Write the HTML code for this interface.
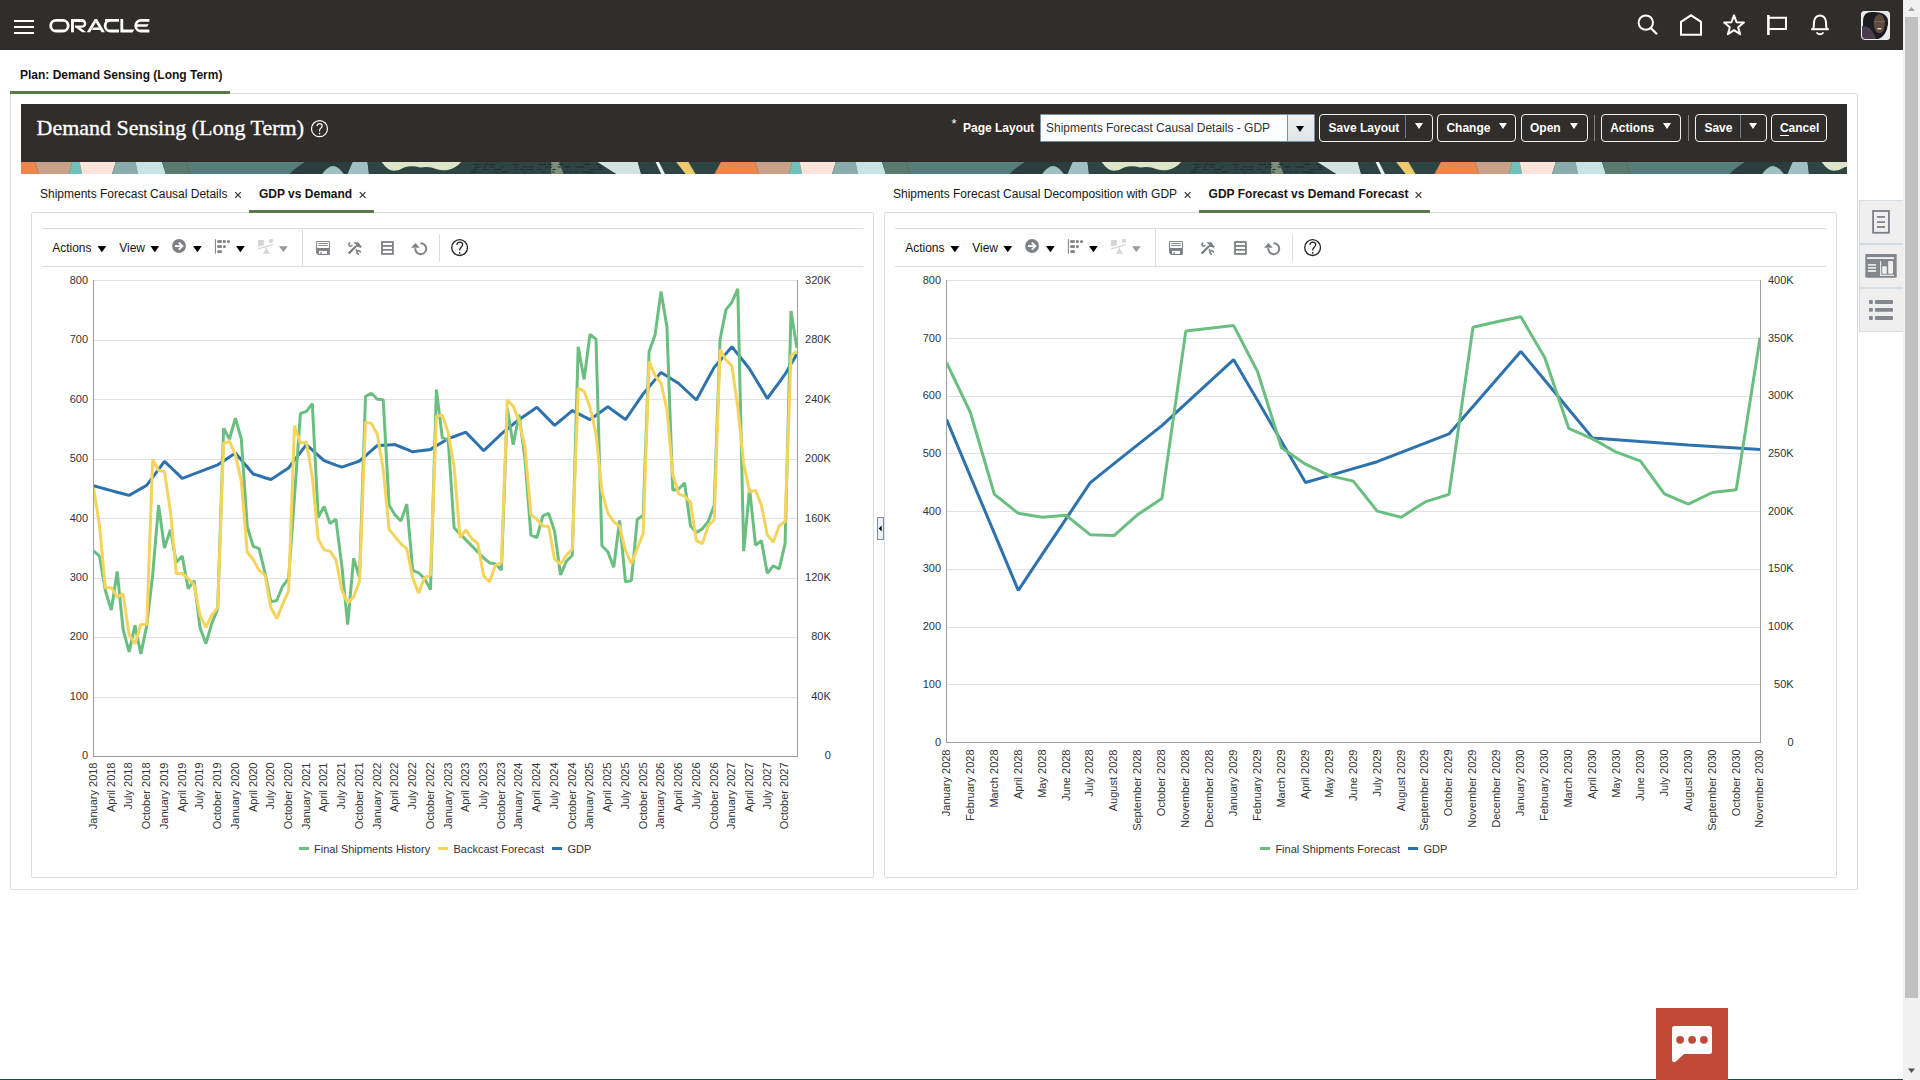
<!DOCTYPE html>
<html><head><meta charset="utf-8">
<style>
*{box-sizing:border-box}
html,body{margin:0;padding:0}
body{width:1920px;height:1080px;overflow:hidden;position:relative;background:#fff;font-family:"Liberation Sans",sans-serif;color:#161513}
.a{position:absolute}
.t{white-space:nowrap;position:absolute;line-height:12px;font-size:12px}
svg.a{overflow:visible}
#hdr{left:0;top:0;width:1903px;height:50px;background:#312d2a}
#sb{left:1903px;top:0;width:17px;height:1080px;background:#f1f1f1}
.btn{position:absolute;top:114px;height:28px;border:1px solid #f2f2f2;border-radius:4px}
.bt{position:absolute;top:121.8px;font-weight:bold;font-size:12px;line-height:12px;color:#fff;white-space:nowrap}
.wtri{position:absolute;top:123px;width:0;height:0;border-left:4.5px solid transparent;border-right:4.5px solid transparent;border-top:6.4px solid #fff}
.bdiv{position:absolute;top:115px;width:1px;height:23px;background:#6b8096}
.sep{position:absolute;top:115px;width:1px;height:26px;background:#7d8288}
.panel{position:absolute;top:212px;height:666px;border:1px solid #d6dfe8;border-radius:2px;background:#fff}
.tab{position:absolute;top:187.8px;font-size:12px;line-height:12px;white-space:nowrap;color:#161513}
</style></head><body>
<!-- header -->
<div id="hdr" class="a"></div>
<svg class="a" style="left:0;top:0" width="1903" height="50" viewBox="0 0 1903 50">
  <g fill="#fff">
    <rect x="14" y="20" width="20" height="2"/><rect x="14" y="26" width="20" height="2"/><rect x="14" y="32" width="20" height="2"/>
  </g>
  <!-- ORACLE logo -->
  <g fill="none" stroke="#fff" stroke-width="2.8">
    <rect x="50.7" y="20.4" width="17.5" height="10.6" rx="5.3" ry="5.3"/>
    <path d="M105.1 20.4H119M119 31H110.4A5.3 5.3 0 0 1 110.4 20.4" />
    <path d="M149.4 20.4H141A5.3 5.3 0 0 0 141 31H149.4"/>
  </g>
  <g fill="#fff">
    <rect x="71.05" y="19.05" width="2.85" height="13.25"/>
    <path d="M73.9 19.05H81.9A4.4 4.4 0 0 1 81.9 27.85H75.2V25.4H82.2A1.65 1.65 0 0 0 82.2 22.1H73.9Z"/>
    <path d="M75.2 25.4L80.4 27.85L86.2 32.3H82.1L75.2 27.1Z"/>
    <path d="M86.8 32.3L94.7 19H97L104.9 32.3H101.6L95.85 22.6L90.1 32.3Z"/>
    <path d="M93.5 27.5H99L100.5 30H92Z"/>
    <path d="M120.4 19H123.2V29.5H134.4L132.5 32.4H120.4Z"/>
    <path d="M136.7 24.3H148.7L147 26.8H136.7Z"/>
  </g>
  <!-- right icons -->
  <g fill="none" stroke="#fff" stroke-width="2">
    <circle cx="1645.8" cy="22.6" r="7.2"/>
    <path d="M1651 28.2L1657 34.2" stroke-width="2.3"/>
    <path d="M1681 34.8V21.8L1691 15.3L1701 21.8V34.8Z"/>
    <path d="M1734 15.4L1736.59 22.24L1743.89 22.59L1738.18 27.16L1740.11 34.21L1734 30.2L1727.89 34.21L1729.82 27.16L1724.11 22.59L1731.41 22.24Z" stroke-linejoin="round"/>
    <path d="M1768.4 15V35" stroke-width="2.6"/>
    <path d="M1768.4 17.7H1786V28.9H1768.4"/>
    <path d="M1813.4 28.6C1813.8 26.5 1814 24.6 1814 22.2A6 6.8 0 0 1 1826 22.2C1826 24.6 1826.2 26.5 1826.6 28.6"/>
    <path d="M1811.2 29.2H1828.8"/>
    <path d="M1816.6 32.4A3.6 2.8 0 0 0 1823.4 32.4"/>
  </g>
  <!-- avatar -->
  <defs>
    <clipPath id="avc"><rect x="1861" y="11" width="29" height="29" rx="3.5"/></clipPath>
    <radialGradient id="face" cx="0.5" cy="0.45" r="0.5"><stop offset="0" stop-color="#6d4a3c"/><stop offset="1" stop-color="#3b2a25"/></radialGradient>
  </defs>
  <filter id="avb"><feGaussianBlur stdDeviation="0.7"/></filter>
  <g clip-path="url(#avc)"><g filter="url(#avb)">
    <rect x="1861" y="11" width="29" height="29" fill="#e2e9e8"/>
    <path d="M1863 21Q1863 12 1872 12Q1885 11 1887.8 19Q1889 29 1884.5 34.5Q1880 39.5 1875 39.5L1863 39.5Z" fill="#1b1d24"/>
    <ellipse cx="1879.3" cy="23.6" rx="5.6" ry="9.6" fill="#5f4a3e"/>
    <path d="M1862 26Q1867 25.5 1870.5 29Q1874 33 1876.5 40.5H1861Z" fill="#4b3c50"/>
    <path d="M1874.2 21.6H1884.8" stroke="#767a80" stroke-width="0.8"/>
    <rect x="1877.4" y="28.1" width="4" height="1.3" fill="#ecebe8"/>
    <path d="M1884.8 34Q1888 29 1888.2 22L1890 22V40H1880Q1883 37.5 1884.8 34Z" fill="#e8eef1"/>
  </g></g>
  <rect x="1861.5" y="11.5" width="28" height="28" rx="3.5" fill="none" stroke="#eef2f0" stroke-width="1"/>
</svg>

<!-- scrollbar -->
<div id="sb" class="a"></div>
<div class="a" style="left:1905px;top:17px;width:13px;height:981px;background:#c1c1c1"></div>
<svg class="a" style="left:1903px;top:0" width="17" height="1080">
  <path d="M5 11L8.5 7L12 11Z" fill="#a3a3a3"/>
  <path d="M5 1068.5L8.5 1073L12 1068.5Z" fill="#505050"/>
</svg>


<!-- outer panel -->
<div class="a" style="left:10px;top:93px;width:1848px;height:797px;border:1px solid #d6dfe8;border-radius:0 2px 2px 2px"></div>

<!-- plan tab -->
<div class="t" style="left:20px;top:68.8px;font-weight:bold;color:#161513">Plan: Demand Sensing (Long Term)</div>
<div class="a" style="left:10px;top:91px;width:220px;height:3px;background:#587a48"></div>
<!-- title bar -->
<div class="a" style="left:21px;top:104px;width:1826px;height:58px;background:#312d2a"></div>
<svg class="a" style="left:21px;top:162px;overflow:hidden" width="1826" height="12" viewBox="21 162 1826 12">
<defs><g id="sp"><path d="M0.9 162H35.2L38.9 174H-5.6Z" fill="#f0844e"/>
<path d="M35.2 162H72.2L68.9 174H38.9Z" fill="#c9a08a"/>
<path d="M72.2 162H79.7L82 174H68.9Z" fill="#6cc1ba"/>
<path d="M79.7 162H115.8L112 174H82Z" fill="#fde4da"/>
<path d="M115.8 162H135.5L137.8 174H112Z" fill="#89abab"/>
<path d="M135.5 162H162L165.8 174H137.8Z" fill="#c8e3e4"/>
<path d="M162 162H186.4L190.6 174H165.8Z" fill="#5a7a70"/>
<path d="M186.4 162H305.3Q296 167 289.8 174H190.6Z" fill="#557e7b"/>
<path d="M305.3 162H352.7L347.5 174H289.8Z" fill="#2b3d3c"/>
<path d="M322.2 174Q328 166 333 166Q338 166 343.8 174Z" fill="#9fc1c2"/>
<path d="M352.7 162H367.5L369 174H347.5Z" fill="#a0c1c3"/>
<path d="M367.5 162H597.5L616.2 174H369Z" fill="#2f4543"/>
<path d="M381.6 162Q388 171 394 170.8Q400 170.5 404 167.5Q412 165 420 167.5Q430 166 436 169Q442 171 448 170Q456 168 461.2 162Z" fill="#dae5c9"/>
<path d="M551.1 162H559L563.7 174H551.1Z" fill="#7e8e7c"/>
<path d="M597.5 162H637.8L641.1 174H616.2Z" fill="#d4e2e2"/>
<path d="M637.8 162H720.9L714.4 174H641.1Z" fill="#2e4442"/>
<path d="M655.6 162H658.9L665 174H661.2Z" fill="#eef2f2"/>
<path d="M676.25 162H688.4L695.5 174H685.6Z" fill="#eecb6a"/>
<path d="M500.9 167h3.1 M548.5 164.5h3.8 M588.1 172h2.8 M500.5 172h3.6 M541.5 172h3.9 M489.6 167h4.6 M538.0 164.5h4.0 M478.3 164.5h2.9 M474.0 169.5h3.4 M563.4 172h4.1 M589.7 172h4.2 M545.0 167h4.6 M482.7 167h3.5 M503.5 172h4.3 M581.2 172h3.5 M520.2 169.5h3.6 M523.0 167h4.7 M558.7 164.5h4.6 M598.8 167h4.1 M512.4 164.5h4.1 M497.4 169.5h2.9 M478.2 172h2.3 M574.1 172h4.7 M472.6 172h4.3 M583.5 164.5h3.8 M569.0 172h4.2 M513.0 169.5h3.5 M599.8 169.5h2.0 M484.1 164.5h4.8 M596.3 169.5h3.8 M490.3 164.5h4.9 M514.2 169.5h4.9 M586.6 172h3.1 M583.1 172h3.9 M547.4 164.5h3.9 M592.3 169.5h3.3 M563.6 167h4.8 M526.9 169.5h3.6 M541.3 164.5h4.4 M598.4 169.5h2.1 M550.1 167h2.2 M551.6 172h3.1 M589.3 169.5h4.2 M472.9 164.5h4.9 M472.8 169.5h2.8 M529.3 169.5h2.5 M494.1 169.5h4.5 M504.3 172h2.3 M575.7 167h2.9 M498.9 169.5h2.7 M494.4 172h3.9 M482.6 169.5h4.8 M557.7 167h3.3 M581.2 167h2.2 M566.5 167h4.7 M528.6 167h4.4 M474.4 167h2.9 M578.7 167h4.6 M514.2 164.5h4.4 M514.9 167h3.3 M537.4 169.5h3.4 M552.4 169.5h3.3 M523.2 172h2.5 M470.6 172h3.7 M598.1 167h2.1 M529.4 169.5h3.6 M585.7 164.5h4.6 M596.2 164.5h4.4 M475.9 167h4.7 M587.0 164.5h2.0" stroke="#1c2a29" stroke-width="0.9" fill="none"/></g></defs>
<rect x="21" y="162" width="1826" height="12" fill="#2e4442"/><use href="#sp"/><use href="#sp" x="720"/><use href="#sp" x="1440"/><use href="#sp" x="-720"/>
</svg>
<div class="t" style="left:36.5px;top:116.9px;font-family:'Liberation Serif',serif;font-size:22px;line-height:22px;color:#fff;-webkit-text-stroke:0.35px #fff">Demand Sensing (Long Term)</div>
<svg class="a" style="left:0;top:0" width="1" height="1">
  <circle cx="319.5" cy="128.7" r="8" fill="none" stroke="#fff" stroke-width="1.2"/>
  <path d="M316.9 126.2C317.2 124.4 318.3 123.6 319.6 123.6C321 123.6 322.2 124.6 322.2 125.9C322.2 127.6 319.5 128.4 319.5 130.6V131.4" fill="none" stroke="#fff" stroke-width="1.2"/>
  <circle cx="319.5" cy="133.6" r="0.8" fill="#fff"/>
</svg>

<!-- page layout -->
<div class="t" style="left:951.6px;top:117.6px;font-size:13px;color:#fff">*</div>
<div class="bt" style="left:963px">Page Layout</div>
<div class="a" style="left:1040px;top:114px;width:275px;height:28px;background:#fcfdff;border:1px solid #7b91a8;border-radius:1px"></div>
<div class="a" style="left:1287px;top:115px;width:27px;height:26px;background:linear-gradient(#eef0f2,#e2e5e8);border-left:1px solid #7b91a8"></div>
<div class="t" style="left:1046px;top:121.8px;color:#333">Shipments Forecast Causal Details - GDP</div>
<div class="a" style="left:1295.8px;top:126px;width:0;height:0;border-left:4.5px solid transparent;border-right:4.5px solid transparent;border-top:6px solid #000"></div>

<!-- buttons -->
<div class="btn" style="left:1319px;width:114px"></div>
<div class="bt" style="left:1328.6px">Save Layout</div>
<div class="bdiv" style="left:1405px"></div>
<div class="wtri" style="left:1414.8px"></div>

<div class="btn" style="left:1437px;width:79px"></div>
<div class="bt" style="left:1446.4px">Change</div>
<div class="wtri" style="left:1499px"></div>

<div class="btn" style="left:1521px;width:67px"></div>
<div class="bt" style="left:1530px">Open</div>
<div class="wtri" style="left:1569.7px"></div>

<div class="sep" style="left:1594px"></div>

<div class="btn" style="left:1601px;width:80px"></div>
<div class="bt" style="left:1610.2px">Actions</div>
<div class="wtri" style="left:1662.8px"></div>

<div class="sep" style="left:1688px"></div>

<div class="btn" style="left:1695px;width:72px"></div>
<div class="bt" style="left:1704.4px">Save</div>
<div class="bdiv" style="left:1739.5px"></div>
<div class="wtri" style="left:1748.8px"></div>

<div class="btn" style="left:1771px;width:56px"></div>
<div class="bt" style="left:1779.9px">Cancel</div>
<div class="a" style="left:1780px;top:134.5px;width:8.5px;height:1px;background:#fff"></div>

<!-- panels -->
<div class="panel" style="left:31px;width:843px"></div>
<div class="panel" style="left:884px;width:953px"></div>
<!-- sub tabs -->
<div class="tab" style="left:40px">Shipments Forecast Causal Details</div>
<div class="tab" style="left:259px;font-weight:bold">GDP vs Demand</div>
<div class="a" style="left:249px;top:210px;width:125px;height:3px;background:#587a48"></div>

<div class="tab" style="left:893px">Shipments Forecast Causal Decomposition with GDP</div>
<div class="tab" style="left:1208.6px;font-weight:bold">GDP Forecast vs Demand Forecast</div>
<div class="a" style="left:1199px;top:210px;width:231px;height:3px;background:#587a48"></div>
<svg class="a" style="left:0;top:0" width="1" height="1">
  <g stroke="#333" stroke-width="1.2" fill="none">
    <path d="M235.2 192.2L240.8 197.8M240.8 192.2L235.2 197.8"/>
    <path d="M359.8 192.2L365.4 197.8M365.4 192.2L359.8 197.8"/>
    <path d="M1184.8 192.2L1190.4 197.8M1190.4 192.2L1184.8 197.8"/>
    <path d="M1415.7 192.2L1421.3 197.8M1421.3 192.2L1415.7 197.8"/>
  </g>
</svg>


<!-- splitter handle -->
<div class="a" style="left:877px;top:517px;width:7px;height:23px;background:#eef0f2;border:1px solid #7a8ea4"></div>
<svg class="a" style="left:0;top:0" width="1" height="1"><path d="M878.8 528.5L881.6 525.6V531.4Z" fill="#000"/></svg>

<!-- side panel -->
<div class="a" style="left:1859px;top:200px;width:44px;height:132px;background:#efefef;border:1px solid #d5dde4;border-right:none"></div>
<div class="a" style="left:1860px;top:243px;width:43px;height:2px;background:#d5dde4"></div>
<div class="a" style="left:1860px;top:287px;width:43px;height:2px;background:#d5dde4"></div>
<svg class="a" style="left:0;top:0" width="1" height="1">
  <rect x="1873.1" y="211" width="15.8" height="21.8" fill="none" stroke="#7c8087" stroke-width="1.85"/>
  <g fill="#7c8087"><rect x="1877" y="216.1" width="8" height="1.7"/><rect x="1877" y="221.2" width="8" height="1.7"/><rect x="1877" y="226.1" width="8" height="1.8"/></g>
  <rect x="1865.3" y="254.1" width="31.4" height="23.6" rx="1.2" fill="#83878d"/>
  <g fill="#f0f0f0">
    <rect x="1867.1" y="257.1" width="26.9" height="1.9"/>
    <rect x="1868" y="264.1" width="8.1" height="1.6"/><rect x="1868" y="267.1" width="8.1" height="1.6"/><rect x="1868" y="270.1" width="8.1" height="1.8"/>
    <rect x="1880.1" y="261.1" width="1.1" height="14.8"/><rect x="1880.1" y="274.7" width="13.9" height="1.2"/>
    <rect x="1882.2" y="266.2" width="4.6" height="7.6" rx="0.8"/><rect x="1888.2" y="261.1" width="4.8" height="12.7" rx="0.8"/>
  </g>
  <g fill="#84888e">
    <rect x="1869" y="300" width="3.9" height="3.9" rx="0.8"/><rect x="1875" y="300" width="18" height="3.9" rx="0.8"/>
    <rect x="1869" y="308.1" width="3.9" height="3.7" rx="0.8"/><rect x="1875" y="308.1" width="18" height="3.7" rx="0.8"/>
    <rect x="1869" y="316" width="3.9" height="3.9" rx="0.8"/><rect x="1875" y="316" width="18" height="3.9" rx="0.8"/>
  </g>
</svg>

<!-- bottom line -->
<div class="a" style="left:0;top:1079px;width:1903px;height:1px;background:#20474d"></div>
<!-- chat button -->
<div class="a" style="left:1656px;top:1008px;width:72px;height:72px;background:#bf4b37"></div>
<svg class="a" style="left:0;top:0" width="1" height="1">
  <path d="M1674.5 1026H1709.5Q1712 1026 1712 1028.5V1051.5Q1712 1054 1709.5 1054H1684L1676 1061.5Q1672 1063.5 1672 1059.5V1028.5Q1672 1026 1674.5 1026Z" fill="#fff"/>
  <g fill="#bf4b37"><circle cx="1680.1" cy="1039.8" r="3.9"/><circle cx="1692.1" cy="1039.8" r="3.9"/><circle cx="1703.9" cy="1039.8" r="3.9"/></g>
</svg>


<div class="a" style="left:42px;top:228px;width:821px;height:1px;background:#d6dfe8"></div>
<div class="a" style="left:42px;top:266px;width:821px;height:1px;background:#d6dfe8"></div>
<div class="a" style="left:302px;top:228px;width:1px;height:38px;background:#d6dfe8"></div>
<div class="a" style="left:439px;top:234px;width:1px;height:28px;background:#d6dfe8"></div>
<div class="t" style="left:52.2px;top:242.2px">Actions</div>
<div class="t" style="left:119.2px;top:242.2px">View</div>
<svg class="a" style="left:0;top:0" width="1" height="1"><g transform="translate(0,0)">
<path d="M97.5 246H106.3L101.9 252.3Z" fill="#000"/>
<path d="M150.4 246H159.20000000000002L154.8 252.3Z" fill="#000"/>
<path d="M193 246H201.8L197.4 252.3Z" fill="#000"/>
<path d="M236 246H244.8L240.4 252.3Z" fill="#000"/>
<path d="M279 246.2H287.8L283.4 251.9Z" fill="#9a9a9a"/>
<circle cx="179" cy="246" r="6.9" fill="#7c8087"/>
<path d="M174.9 246.1H181" stroke="#fff" stroke-width="1.9" fill="none"/><path d="M178.8 242.6L182.4 246.1L178.8 249.6" stroke="#fff" stroke-width="1.9" fill="none"/>
<g fill="#7c8087"><rect x="214.9" y="239.1" width="1" height="14.6"/><rect x="217.2" y="240.2" width="4.6" height="2.7"/><rect x="223" y="240.2" width="2.7" height="2.7"/><rect x="227" y="240.2" width="3" height="2.7" rx="1.2"/><rect x="217.2" y="245.2" width="4.6" height="2.7"/><rect x="223" y="245.2" width="2.9" height="2.7" rx="1.2"/><rect x="217.2" y="250.2" width="4.8" height="2.7" rx="1.2"/></g>
<g fill="#d3d5d8"><path d="M258.1 240.1H263.8V245.2L258.1 246.8Z"/><path d="M269.2 239H272.9V242.3L269.2 243.3Z"/><path d="M258.1 248.2L272.9 244.1V245.3L258.1 249.4Z"/><rect x="265.9" y="247.5" width="1" height="2"/><path d="M266.4 248.5L270.2 253.8H262.7Z"/></g>
<g fill="#7c8087"><path d="M317 241H329A0.9 0.9 0 0 1 329.9 241.9V254A0.9 0.9 0 0 1 329 254.9H318L316.1 253V241.9A0.9 0.9 0 0 1 317 241Z"/></g><rect x="317.1" y="241.9" width="11.8" height="6.1" fill="#fff"/><g fill="#7c8087"><rect x="318.3" y="243" width="9.4" height="0.9"/><rect x="318.3" y="245.1" width="9.4" height="0.9"/></g><rect x="319" y="250.9" width="8" height="3" fill="#fff"/><rect x="320.3" y="252.2" width="1.5" height="1.7" fill="#7c8087"/>
<g stroke="#7c8087" fill="none"><path d="M350.3 242.7A1.7 1.7 0 1 0 352.2 245" stroke-width="1.6"/><path d="M358.9 254.1A1.7 1.7 0 1 1 360.3 252.7" stroke-width="1.6"/><path d="M355.8 249.4L357.6 251.2" stroke-width="1.6"/><path d="M349.3 252.9L355.4 246.8" stroke-width="2.3" stroke-linecap="round"/></g><path d="M353.3 242.2H357.8Q359.6 242.6 360.2 245.3L361.9 246.3L360.6 248.1L358.6 246.9L356.4 246.9L355.9 244.4Z" fill="#7c8087"/>
<rect x="382" y="242" width="10.9" height="11.9" fill="none" stroke="#7c8087" stroke-width="1.8"/><g fill="#7c8087"><rect x="382" y="245" width="11" height="1.8"/><rect x="382" y="249" width="11" height="1.7"/></g>
<path d="M420.5 243.2A5.5 5.5 0 1 1 415.3 248.2" fill="none" stroke="#7c8087" stroke-width="1.9"/><path d="M415.4 243L419.7 247.7H411.1Z" fill="#7c8087"/>
<circle cx="459.6" cy="247.6" r="7.9" fill="none" stroke="#222" stroke-width="1.3"/><path d="M456.9 245C457.2 243.1 458.5 242.2 459.9 242.2C461.5 242.2 462.7 243.3 462.7 244.7C462.7 246.6 459.7 247.5 459.7 250V250.6" fill="none" stroke="#222" stroke-width="1.2"/><circle cx="459.7" cy="252.9" r="0.85" fill="#222"/>
</g></svg>
<div class="a" style="left:895px;top:228px;width:931px;height:1px;background:#d6dfe8"></div>
<div class="a" style="left:895px;top:266px;width:931px;height:1px;background:#d6dfe8"></div>
<div class="a" style="left:1155px;top:228px;width:1px;height:38px;background:#d6dfe8"></div>
<div class="a" style="left:1292px;top:234px;width:1px;height:28px;background:#d6dfe8"></div>
<div class="t" style="left:905.2px;top:242.2px">Actions</div>
<div class="t" style="left:972.2px;top:242.2px">View</div>
<svg class="a" style="left:0;top:0" width="1" height="1"><g transform="translate(853,0)">
<path d="M97.5 246H106.3L101.9 252.3Z" fill="#000"/>
<path d="M150.4 246H159.20000000000002L154.8 252.3Z" fill="#000"/>
<path d="M193 246H201.8L197.4 252.3Z" fill="#000"/>
<path d="M236 246H244.8L240.4 252.3Z" fill="#000"/>
<path d="M279 246.2H287.8L283.4 251.9Z" fill="#9a9a9a"/>
<circle cx="179" cy="246" r="6.9" fill="#7c8087"/>
<path d="M174.9 246.1H181" stroke="#fff" stroke-width="1.9" fill="none"/><path d="M178.8 242.6L182.4 246.1L178.8 249.6" stroke="#fff" stroke-width="1.9" fill="none"/>
<g fill="#7c8087"><rect x="214.9" y="239.1" width="1" height="14.6"/><rect x="217.2" y="240.2" width="4.6" height="2.7"/><rect x="223" y="240.2" width="2.7" height="2.7"/><rect x="227" y="240.2" width="3" height="2.7" rx="1.2"/><rect x="217.2" y="245.2" width="4.6" height="2.7"/><rect x="223" y="245.2" width="2.9" height="2.7" rx="1.2"/><rect x="217.2" y="250.2" width="4.8" height="2.7" rx="1.2"/></g>
<g fill="#d3d5d8"><path d="M258.1 240.1H263.8V245.2L258.1 246.8Z"/><path d="M269.2 239H272.9V242.3L269.2 243.3Z"/><path d="M258.1 248.2L272.9 244.1V245.3L258.1 249.4Z"/><rect x="265.9" y="247.5" width="1" height="2"/><path d="M266.4 248.5L270.2 253.8H262.7Z"/></g>
<g fill="#7c8087"><path d="M317 241H329A0.9 0.9 0 0 1 329.9 241.9V254A0.9 0.9 0 0 1 329 254.9H318L316.1 253V241.9A0.9 0.9 0 0 1 317 241Z"/></g><rect x="317.1" y="241.9" width="11.8" height="6.1" fill="#fff"/><g fill="#7c8087"><rect x="318.3" y="243" width="9.4" height="0.9"/><rect x="318.3" y="245.1" width="9.4" height="0.9"/></g><rect x="319" y="250.9" width="8" height="3" fill="#fff"/><rect x="320.3" y="252.2" width="1.5" height="1.7" fill="#7c8087"/>
<g stroke="#7c8087" fill="none"><path d="M350.3 242.7A1.7 1.7 0 1 0 352.2 245" stroke-width="1.6"/><path d="M358.9 254.1A1.7 1.7 0 1 1 360.3 252.7" stroke-width="1.6"/><path d="M355.8 249.4L357.6 251.2" stroke-width="1.6"/><path d="M349.3 252.9L355.4 246.8" stroke-width="2.3" stroke-linecap="round"/></g><path d="M353.3 242.2H357.8Q359.6 242.6 360.2 245.3L361.9 246.3L360.6 248.1L358.6 246.9L356.4 246.9L355.9 244.4Z" fill="#7c8087"/>
<rect x="382" y="242" width="10.9" height="11.9" fill="none" stroke="#7c8087" stroke-width="1.8"/><g fill="#7c8087"><rect x="382" y="245" width="11" height="1.8"/><rect x="382" y="249" width="11" height="1.7"/></g>
<path d="M420.5 243.2A5.5 5.5 0 1 1 415.3 248.2" fill="none" stroke="#7c8087" stroke-width="1.9"/><path d="M415.4 243L419.7 247.7H411.1Z" fill="#7c8087"/>
<circle cx="459.6" cy="247.6" r="7.9" fill="none" stroke="#222" stroke-width="1.3"/><path d="M456.9 245C457.2 243.1 458.5 242.2 459.9 242.2C461.5 242.2 462.7 243.3 462.7 244.7C462.7 246.6 459.7 247.5 459.7 250V250.6" fill="none" stroke="#222" stroke-width="1.2"/><circle cx="459.7" cy="252.9" r="0.85" fill="#222"/>
</g></svg>
<svg class="a" style="left:0;top:0" width="1920" height="1080" viewBox="0 0 1920 1080">
<path d="M93 280.5H797 M93 340.5H797 M93 399.5H797 M93 459.5H797 M93 518.5H797 M93 578.5H797 M93 637.5H797 M93 697.5H797" stroke="#dde2e9" stroke-width="1" fill="none"/>
<path d="M93.5 280V756.5M797.5 280V756.5M93 756.5H798" stroke="#9e9e9e" stroke-width="1" fill="none"/>
<g font-family="Liberation Sans" font-size="11" fill="#333333">
<text x="88" y="284.00" text-anchor="end">800</text>
<text x="830.8" y="284.00" text-anchor="end">320K</text>
<text x="88" y="343.00" text-anchor="end">700</text>
<text x="830.8" y="343.00" text-anchor="end">280K</text>
<text x="88" y="403.00" text-anchor="end">600</text>
<text x="830.8" y="403.00" text-anchor="end">240K</text>
<text x="88" y="462.00" text-anchor="end">500</text>
<text x="830.8" y="462.00" text-anchor="end">200K</text>
<text x="88" y="522.00" text-anchor="end">400</text>
<text x="830.8" y="522.00" text-anchor="end">160K</text>
<text x="88" y="581.00" text-anchor="end">300</text>
<text x="830.8" y="581.00" text-anchor="end">120K</text>
<text x="88" y="640.00" text-anchor="end">200</text>
<text x="830.8" y="640.00" text-anchor="end">80K</text>
<text x="88" y="700.00" text-anchor="end">100</text>
<text x="830.8" y="700.00" text-anchor="end">40K</text>
<text x="88" y="759.00" text-anchor="end">0</text>
<text x="830.8" y="759.00" text-anchor="end">0</text>
<text transform="translate(96.9,762.5) rotate(-90)" text-anchor="end">January 2018</text>
<text transform="translate(114.6,762.5) rotate(-90)" text-anchor="end">April 2018</text>
<text transform="translate(132.4,762.5) rotate(-90)" text-anchor="end">July 2018</text>
<text transform="translate(150.1,762.5) rotate(-90)" text-anchor="end">October 2018</text>
<text transform="translate(167.8,762.5) rotate(-90)" text-anchor="end">January 2019</text>
<text transform="translate(185.6,762.5) rotate(-90)" text-anchor="end">April 2019</text>
<text transform="translate(203.3,762.5) rotate(-90)" text-anchor="end">July 2019</text>
<text transform="translate(221.0,762.5) rotate(-90)" text-anchor="end">October 2019</text>
<text transform="translate(238.7,762.5) rotate(-90)" text-anchor="end">January 2020</text>
<text transform="translate(256.5,762.5) rotate(-90)" text-anchor="end">April 2020</text>
<text transform="translate(274.2,762.5) rotate(-90)" text-anchor="end">July 2020</text>
<text transform="translate(291.9,762.5) rotate(-90)" text-anchor="end">October 2020</text>
<text transform="translate(309.7,762.5) rotate(-90)" text-anchor="end">January 2021</text>
<text transform="translate(327.4,762.5) rotate(-90)" text-anchor="end">April 2021</text>
<text transform="translate(345.1,762.5) rotate(-90)" text-anchor="end">July 2021</text>
<text transform="translate(362.8,762.5) rotate(-90)" text-anchor="end">October 2021</text>
<text transform="translate(380.6,762.5) rotate(-90)" text-anchor="end">January 2022</text>
<text transform="translate(398.3,762.5) rotate(-90)" text-anchor="end">April 2022</text>
<text transform="translate(416.0,762.5) rotate(-90)" text-anchor="end">July 2022</text>
<text transform="translate(433.8,762.5) rotate(-90)" text-anchor="end">October 2022</text>
<text transform="translate(451.5,762.5) rotate(-90)" text-anchor="end">January 2023</text>
<text transform="translate(469.2,762.5) rotate(-90)" text-anchor="end">April 2023</text>
<text transform="translate(487.0,762.5) rotate(-90)" text-anchor="end">July 2023</text>
<text transform="translate(504.7,762.5) rotate(-90)" text-anchor="end">October 2023</text>
<text transform="translate(522.4,762.5) rotate(-90)" text-anchor="end">January 2024</text>
<text transform="translate(540.1,762.5) rotate(-90)" text-anchor="end">April 2024</text>
<text transform="translate(557.9,762.5) rotate(-90)" text-anchor="end">July 2024</text>
<text transform="translate(575.6,762.5) rotate(-90)" text-anchor="end">October 2024</text>
<text transform="translate(593.3,762.5) rotate(-90)" text-anchor="end">January 2025</text>
<text transform="translate(611.1,762.5) rotate(-90)" text-anchor="end">April 2025</text>
<text transform="translate(628.8,762.5) rotate(-90)" text-anchor="end">July 2025</text>
<text transform="translate(646.5,762.5) rotate(-90)" text-anchor="end">October 2025</text>
<text transform="translate(664.3,762.5) rotate(-90)" text-anchor="end">January 2026</text>
<text transform="translate(682.0,762.5) rotate(-90)" text-anchor="end">April 2026</text>
<text transform="translate(699.7,762.5) rotate(-90)" text-anchor="end">July 2026</text>
<text transform="translate(717.5,762.5) rotate(-90)" text-anchor="end">October 2026</text>
<text transform="translate(735.2,762.5) rotate(-90)" text-anchor="end">January 2027</text>
<text transform="translate(752.9,762.5) rotate(-90)" text-anchor="end">April 2027</text>
<text transform="translate(770.6,762.5) rotate(-90)" text-anchor="end">July 2027</text>
<text transform="translate(788.4,762.5) rotate(-90)" text-anchor="end">October 2027</text>
<text x="314" y="853">Final Shipments History</text><text x="453.5" y="853">Backcast Forecast</text><text x="567.5" y="853">GDP</text>
</g>
<rect x="299" y="847" width="10" height="3" fill="#6abf80"/><rect x="438" y="847" width="10" height="3" fill="#f5d45c"/><rect x="552" y="847" width="10" height="3" fill="#2e72ad"/>
<clipPath id="clipL"><rect x="94" y="270" width="703" height="490"/></clipPath>
<g fill="none" stroke-width="3" stroke-linejoin="bevel" clip-path="url(#clipL)">
<polyline points="93.6,485.8 99.5,487.4 105.4,489.0 111.3,490.6 117.2,492.2 123.1,493.8 129.1,495.4 135.0,492.0 140.9,488.6 146.8,485.2 152.7,477.3 158.6,469.3 164.5,461.4 170.4,467.0 176.3,472.7 182.2,478.3 188.2,476.1 194.1,473.9 200.0,471.7 205.9,469.4 211.8,467.1 217.7,464.8 223.6,460.9 229.5,456.9 235.4,453.0 241.3,460.0 247.3,467.0 253.2,474.0 259.1,475.8 265.0,477.7 270.9,479.5 276.8,475.7 282.7,471.8 288.6,468.0 294.5,460.2 300.4,452.4 306.4,444.6 312.3,450.0 318.2,455.3 324.1,460.7 330.0,462.9 335.9,465.1 341.8,467.2 347.7,465.1 353.6,463.1 359.5,461.0 365.5,455.8 371.4,450.7 377.3,445.5 383.2,445.2 389.1,444.9 395.0,444.6 400.9,447.0 406.8,449.4 412.7,451.8 418.6,451.0 424.6,450.2 430.5,449.4 436.4,445.8 442.3,442.2 448.2,438.7 454.1,436.5 460.0,434.3 465.9,432.2 471.8,438.4 477.8,444.5 483.7,450.7 489.6,445.1 495.5,439.5 501.4,433.9 507.3,429.0 513.2,424.2 519.1,419.4 525.0,415.4 530.9,411.4 536.9,407.3 542.8,413.4 548.7,419.4 554.6,425.4 560.5,420.5 566.4,415.6 572.3,410.7 578.2,413.7 584.1,416.7 590.0,419.6 596.0,415.3 601.9,411.0 607.8,406.6 613.7,411.0 619.6,415.3 625.5,419.6 631.4,411.0 637.3,402.4 643.2,393.9 649.1,386.7 655.1,379.6 661.0,372.4 666.9,376.1 672.8,379.8 678.7,383.5 684.6,389.0 690.5,394.5 696.4,400.0 702.3,389.1 708.2,378.3 714.2,367.4 720.1,360.5 726.0,353.6 731.9,346.7 737.8,354.1 743.7,361.5 749.6,368.9 755.5,378.8 761.4,388.6 767.3,398.5 773.2,390.4 779.2,382.3 785.1,374.2 791.0,364.1 796.9,354.1" stroke="#2e72ad"/>
<polyline points="93.6,551.0 99.5,556.1 105.4,590.8 111.3,610.1 117.2,571.4 123.1,629.5 129.1,651.9 135.0,625.4 140.9,653.9 146.8,625.4 152.7,574.5 158.6,505.2 164.5,548.0 170.4,529.6 176.3,562.2 182.2,556.1 188.2,588.7 194.1,580.6 200.0,627.4 205.9,643.7 211.8,623.4 217.7,608.9 223.6,428.2 229.5,439.0 235.4,418.1 241.3,439.0 247.3,527.0 253.2,546.3 259.1,548.7 265.0,572.8 270.9,601.7 276.8,600.5 282.7,586.0 288.6,578.8 294.5,496.3 300.4,413.7 306.4,411.3 312.3,403.6 318.2,517.3 324.1,506.5 330.0,523.4 335.9,519.3 341.8,565.5 347.7,624.6 353.6,558.3 359.5,577.6 365.5,396.4 371.4,393.3 377.3,399.3 383.2,399.8 389.1,505.3 395.0,514.9 400.9,521.0 406.8,504.1 412.7,570.4 418.6,572.8 424.6,578.8 430.5,589.6 436.4,389.6 442.3,437.8 448.2,439.9 454.1,527.8 460.0,533.9 465.9,539.9 471.8,545.9 477.8,551.9 483.7,558.0 489.6,562.8 495.5,564.0 501.4,570.0 507.3,408.6 513.2,444.7 519.1,414.6 525.0,459.2 530.9,535.1 536.9,537.5 542.8,515.8 548.7,513.4 554.6,531.4 560.5,574.8 566.4,561.3 572.3,555.3 578.2,346.9 584.1,379.4 590.0,334.3 596.0,339.2 601.9,545.7 607.8,551.7 613.7,567.3 619.6,520.4 625.5,581.8 631.4,580.6 637.3,519.2 643.2,515.5 649.1,351.7 655.1,334.8 661.0,291.6 666.9,326.8 672.8,490.2 678.7,489.0 684.6,483.0 690.5,525.9 696.4,532.4 702.3,528.9 708.2,521.5 714.2,505.2 720.1,339.3 726.0,309.6 731.9,302.2 737.8,288.9 743.7,551.1 749.6,488.9 755.5,545.2 761.4,540.7 767.3,573.3 773.2,565.9 779.2,568.9 785.1,543.7 791.0,311.1 796.9,348.1" stroke="#6abf80"/>
<polyline points="93.6,487.9 99.5,525.6 105.4,587.7 111.3,587.7 117.2,596.9 123.1,593.8 129.1,634.6 135.0,643.7 140.9,624.4 146.8,624.4 152.7,459.4 158.6,470.6 164.5,471.6 170.4,511.3 176.3,573.5 182.2,573.5 188.2,578.5 194.1,584.7 200.0,615.2 205.9,627.4 211.8,614.9 217.7,607.7 223.6,443.1 229.5,441.4 235.4,454.7 241.3,481.2 247.3,552.3 253.2,559.5 259.1,570.4 265.0,575.2 270.9,607.7 276.8,618.6 282.7,604.1 288.6,590.8 294.5,425.8 300.4,443.1 306.4,442.2 312.3,476.4 318.2,539.0 324.1,549.9 330.0,551.1 335.9,559.5 341.8,589.6 347.7,602.9 353.6,596.9 359.5,581.2 365.5,422.2 371.4,423.4 377.3,434.2 383.2,469.2 389.1,529.4 395.0,536.6 400.9,543.9 406.8,548.7 412.7,577.6 418.6,593.3 424.6,577.6 430.5,575.2 436.4,416.1 442.3,414.9 448.2,432.7 454.1,466.4 460.0,537.5 465.9,530.2 471.8,538.7 477.8,543.5 483.7,576.0 489.6,582.0 495.5,565.2 501.4,562.8 507.3,400.1 513.2,406.1 519.1,420.6 525.0,447.1 530.9,514.6 536.9,519.4 542.8,526.1 548.7,526.6 554.6,559.2 560.5,564.0 566.4,555.3 572.3,549.3 578.2,387.8 584.1,391.4 590.0,407.1 596.0,433.6 601.9,491.4 607.8,513.1 613.7,521.6 619.6,526.4 625.5,550.5 631.4,563.7 637.3,548.1 643.2,533.6 649.1,361.3 655.1,375.8 661.0,383.0 666.9,409.5 672.8,474.6 678.7,493.9 684.6,496.3 690.5,502.2 696.4,540.7 702.3,543.7 708.2,525.9 714.2,520.0 720.1,349.6 726.0,360.0 731.9,365.9 737.8,407.4 743.7,463.7 749.6,491.9 755.5,490.4 761.4,505.2 767.3,534.8 773.2,542.2 779.2,525.9 785.1,521.5 791.0,355.6 796.9,351.1" stroke="#f5d45c"/>
</g></svg>
<svg class="a" style="left:0;top:0" width="1920" height="1080" viewBox="0 0 1920 1080">
<path d="M946 280.5H1760 M946 338.5H1760 M946 396.5H1760 M946 453.5H1760 M946 511.5H1760 M946 569.5H1760 M946 627.5H1760 M946 684.5H1760" stroke="#dde2e9" stroke-width="1" fill="none"/>
<path d="M946.5 280V742.5M1760.5 280V742.5M946 742.5H1761" stroke="#9e9e9e" stroke-width="1" fill="none"/>
<g font-family="Liberation Sans" font-size="11" fill="#333333">
<text x="941" y="284.00" text-anchor="end">800</text>
<text x="1793.6" y="284.00" text-anchor="end">400K</text>
<text x="941" y="342.00" text-anchor="end">700</text>
<text x="1793.6" y="342.00" text-anchor="end">350K</text>
<text x="941" y="399.00" text-anchor="end">600</text>
<text x="1793.6" y="399.00" text-anchor="end">300K</text>
<text x="941" y="457.00" text-anchor="end">500</text>
<text x="1793.6" y="457.00" text-anchor="end">250K</text>
<text x="941" y="515.00" text-anchor="end">400</text>
<text x="1793.6" y="515.00" text-anchor="end">200K</text>
<text x="941" y="572.00" text-anchor="end">300</text>
<text x="1793.6" y="572.00" text-anchor="end">150K</text>
<text x="941" y="630.00" text-anchor="end">200</text>
<text x="1793.6" y="630.00" text-anchor="end">100K</text>
<text x="941" y="688.00" text-anchor="end">100</text>
<text x="1793.6" y="688.00" text-anchor="end">50K</text>
<text x="941" y="746.00" text-anchor="end">0</text>
<text x="1793.6" y="746.00" text-anchor="end">0</text>
<text transform="translate(949.8,749.5) rotate(-90)" text-anchor="end">January 2028</text>
<text transform="translate(973.7,749.5) rotate(-90)" text-anchor="end">February 2028</text>
<text transform="translate(997.7,749.5) rotate(-90)" text-anchor="end">March 2028</text>
<text transform="translate(1021.6,749.5) rotate(-90)" text-anchor="end">April 2028</text>
<text transform="translate(1045.5,749.5) rotate(-90)" text-anchor="end">May 2028</text>
<text transform="translate(1069.5,749.5) rotate(-90)" text-anchor="end">June 2028</text>
<text transform="translate(1093.4,749.5) rotate(-90)" text-anchor="end">July 2028</text>
<text transform="translate(1117.3,749.5) rotate(-90)" text-anchor="end">August 2028</text>
<text transform="translate(1141.2,749.5) rotate(-90)" text-anchor="end">September 2028</text>
<text transform="translate(1165.2,749.5) rotate(-90)" text-anchor="end">October 2028</text>
<text transform="translate(1189.1,749.5) rotate(-90)" text-anchor="end">November 2028</text>
<text transform="translate(1213.0,749.5) rotate(-90)" text-anchor="end">December 2028</text>
<text transform="translate(1237.0,749.5) rotate(-90)" text-anchor="end">January 2029</text>
<text transform="translate(1260.9,749.5) rotate(-90)" text-anchor="end">February 2029</text>
<text transform="translate(1284.8,749.5) rotate(-90)" text-anchor="end">March 2029</text>
<text transform="translate(1308.8,749.5) rotate(-90)" text-anchor="end">April 2029</text>
<text transform="translate(1332.7,749.5) rotate(-90)" text-anchor="end">May 2029</text>
<text transform="translate(1356.6,749.5) rotate(-90)" text-anchor="end">June 2029</text>
<text transform="translate(1380.5,749.5) rotate(-90)" text-anchor="end">July 2029</text>
<text transform="translate(1404.5,749.5) rotate(-90)" text-anchor="end">August 2029</text>
<text transform="translate(1428.4,749.5) rotate(-90)" text-anchor="end">September 2029</text>
<text transform="translate(1452.3,749.5) rotate(-90)" text-anchor="end">October 2029</text>
<text transform="translate(1476.3,749.5) rotate(-90)" text-anchor="end">November 2029</text>
<text transform="translate(1500.2,749.5) rotate(-90)" text-anchor="end">December 2029</text>
<text transform="translate(1524.1,749.5) rotate(-90)" text-anchor="end">January 2030</text>
<text transform="translate(1548.0,749.5) rotate(-90)" text-anchor="end">February 2030</text>
<text transform="translate(1572.0,749.5) rotate(-90)" text-anchor="end">March 2030</text>
<text transform="translate(1595.9,749.5) rotate(-90)" text-anchor="end">April 2030</text>
<text transform="translate(1619.8,749.5) rotate(-90)" text-anchor="end">May 2030</text>
<text transform="translate(1643.8,749.5) rotate(-90)" text-anchor="end">June 2030</text>
<text transform="translate(1667.7,749.5) rotate(-90)" text-anchor="end">July 2030</text>
<text transform="translate(1691.6,749.5) rotate(-90)" text-anchor="end">August 2030</text>
<text transform="translate(1715.6,749.5) rotate(-90)" text-anchor="end">September 2030</text>
<text transform="translate(1739.5,749.5) rotate(-90)" text-anchor="end">October 2030</text>
<text transform="translate(1763.4,749.5) rotate(-90)" text-anchor="end">November 2030</text>
<text x="1275.4" y="853">Final Shipments Forecast</text><text x="1423.4" y="853">GDP</text>
</g>
<rect x="1260" y="847" width="10" height="3" fill="#6abf80"/><rect x="1408" y="847" width="10" height="3" fill="#2e72ad"/>
<clipPath id="clipR"><rect x="947" y="270" width="813" height="475"/></clipPath>
<g fill="none" stroke-width="3" stroke-linejoin="bevel" clip-path="url(#clipR)">
<polyline points="946.5,419.4 970.4,476.4 994.4,533.3 1018.3,590.3 1042.2,554.4 1066.2,518.6 1090.1,482.8 1114.0,463.7 1137.9,444.6 1161.9,425.6 1185.8,403.6 1209.7,381.7 1233.7,359.7 1257.6,400.6 1281.5,441.6 1305.5,482.5 1329.4,475.6 1353.3,468.6 1377.2,461.7 1401.2,452.4 1425.1,443.1 1449.0,433.9 1473.0,406.4 1496.9,378.9 1520.8,351.4 1544.8,380.3 1568.7,409.2 1592.6,438.1 1616.5,439.8 1640.5,441.6 1664.4,443.3 1688.3,444.9 1712.3,446.4 1736.2,447.9 1760.1,449.4" stroke="#2e72ad"/>
<polyline points="946.5,362.5 970.4,412.5 994.4,494.4 1018.3,513.3 1042.2,517.2 1066.2,515.3 1090.1,534.7 1114.0,535.6 1137.9,514.4 1161.9,498.6 1185.8,331.1 1209.7,328.3 1233.7,325.6 1257.6,371.7 1281.5,447.8 1305.5,464.2 1329.4,475.6 1353.3,481.1 1377.2,511.1 1401.2,517.2 1425.1,501.9 1449.0,494.4 1473.0,327.2 1496.9,321.7 1520.8,316.7 1544.8,357.8 1568.7,428.3 1592.6,438.9 1616.5,452.2 1640.5,461.1 1664.4,493.9 1688.3,504.2 1712.3,492.5 1736.2,489.7 1760.1,337.5" stroke="#6abf80"/>
</g></svg>
</body></html>
